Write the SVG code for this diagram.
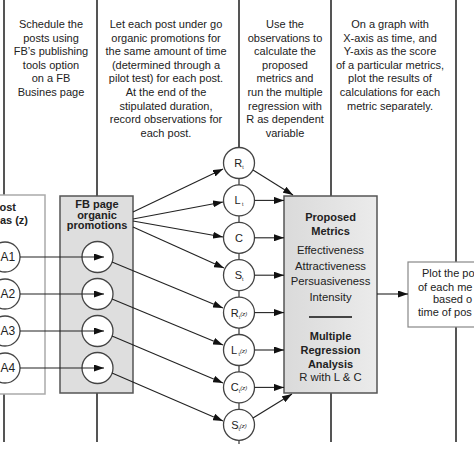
<svg xmlns="http://www.w3.org/2000/svg" width="474" height="474" viewBox="0 0 474 474">
<defs>
<style>
text{font-family:"Liberation Sans",Arial,sans-serif;fill:#222}
.lane{stroke:#555;stroke-width:2;fill:none}
.note{font-size:11px;text-anchor:middle}
.c{fill:#fff;stroke:#444;stroke-width:1.3}
.conn{stroke:#222;stroke-width:1.1;fill:none;marker-end:url(#ah)}
.lbl{font-size:11px;text-anchor:middle}
.sub{font-size:5px}
.zz{font-size:6px;font-style:italic}
.b{font-weight:bold}
</style>
<marker id="ah" markerWidth="10" markerHeight="7" refX="10" refY="3.5" orient="auto" markerUnits="userSpaceOnUse">
<path d="M0,0 L10,3.5 L0,7 z" fill="#111"/>
</marker>
<linearGradient id="gg" x1="0" y1="0" x2="1" y2="0">
<stop offset="0" stop-color="#dadada"/>
<stop offset="1" stop-color="#ebebeb"/>
</linearGradient>
</defs>
<rect width="474" height="474" fill="#fff"/>

<g id="lanes">
<line class="lane" x1="4" y1="0" x2="4" y2="195"/>
<line class="lane" x1="4" y1="394" x2="4" y2="442"/>
<line class="lane" x1="97" y1="0" x2="97" y2="196"/>
<line class="lane" x1="97" y1="393" x2="97" y2="442"/>
<line class="lane" x1="239" y1="0" x2="239" y2="147.5"/>
<line class="lane" x1="331" y1="0" x2="331" y2="196"/>
<line class="lane" x1="331" y1="393" x2="331" y2="442"/>
<line class="lane" x1="456" y1="0" x2="456" y2="262"/>
<line class="lane" x1="456" y1="327" x2="456" y2="442"/>
</g>

<g id="note1">
<text class="note" x="51" y="28"><tspan x="51">Schedule the</tspan><tspan x="51" dy="13.6">posts using</tspan><tspan x="51" dy="13.6">FB’s publishing</tspan><tspan x="51" dy="13.6">tools option</tspan><tspan x="51" dy="13.6">on a FB</tspan><tspan x="51" dy="13.6">Busines page</tspan></text>
</g>
<g id="note2">
<text class="note" x="166" y="28"><tspan x="166">Let each post under go</tspan><tspan x="166" dy="13.6">organic promotions for</tspan><tspan x="166" dy="13.6">the same amount of time</tspan><tspan x="166" dy="13.6">(determined through a</tspan><tspan x="166" dy="13.6">pilot test) for each post.</tspan><tspan x="166" dy="13.6">At the end of the</tspan><tspan x="166" dy="13.6">stipulated duration,</tspan><tspan x="166" dy="13.6">record observations for</tspan><tspan x="166" dy="13.6">each post.</tspan></text>
</g>
<g id="note3">
<text class="note" x="285" y="28"><tspan x="285">Use the</tspan><tspan x="285" dy="13.6">observations to</tspan><tspan x="285" dy="13.6">calculate the</tspan><tspan x="285" dy="13.6">proposed</tspan><tspan x="285" dy="13.6">metrics and</tspan><tspan x="285" dy="13.6">run the multiple</tspan><tspan x="285" dy="13.6">regression with</tspan><tspan x="285" dy="13.6">R as dependent</tspan><tspan x="285" dy="13.6">variable</tspan></text>
</g>
<g id="note4">
<text class="note" x="390" y="28"><tspan x="390">On a graph with</tspan><tspan x="390" dy="13.6">X-axis as time, and</tspan><tspan x="390" dy="13.6">Y-axis as the score</tspan><tspan x="390" dy="13.6">of a particular metrics,</tspan><tspan x="390" dy="13.6">plot the results of</tspan><tspan x="390" dy="13.6">calculations for each</tspan><tspan x="390" dy="13.6">metric separately.</tspan></text>
</g>

<g id="postbox">
<rect x="-20" y="195" width="65" height="199" fill="#fff" stroke="#aaa" stroke-width="1.5"/>
<text class="b" x="16" y="211" font-size="11" text-anchor="end">ost</text>
<text class="b" x="28" y="224" font-size="11" text-anchor="end">as (z)</text>
</g>
<g id="A1"><circle class="c" cx="5" cy="257" r="15"/><text x="0.5" y="261" font-size="12">A1</text></g>
<g id="A2"><circle class="c" cx="5" cy="294" r="15"/><text x="0.5" y="298" font-size="12">A2</text></g>
<g id="A3"><circle class="c" cx="5" cy="331" r="15"/><text x="0.5" y="335" font-size="12">A3</text></g>
<g id="A4"><circle class="c" cx="5" cy="368" r="15"/><text x="0.5" y="372" font-size="12">A4</text></g>

<g id="fbbox">
<rect x="60" y="196" width="73" height="197" fill="#dedede" stroke="#555" stroke-width="1.5"/>
<text class="b" x="97" y="208" font-size="11" text-anchor="middle"><tspan x="97">FB page</tspan><tspan x="97" dy="10.5">organic</tspan><tspan x="97" dy="10.5">promotions</tspan></text>
</g>
<g id="P1"><circle class="c" cx="97.5" cy="257" r="15.5"/></g>
<g id="P2"><circle class="c" cx="97.5" cy="294" r="15.5"/></g>
<g id="P3"><circle class="c" cx="97.5" cy="331" r="15.5"/></g>
<g id="P4"><circle class="c" cx="97.5" cy="368" r="15.5"/></g>

<g id="R"><circle class="c" cx="239" cy="163" r="15.5"/><text class="lbl" x="239" y="167">R<tspan class="sub" dy="2">t</tspan></text></g>
<g id="L"><circle class="c" cx="239" cy="200.4" r="15.5"/><text class="lbl" x="239" y="204.4">L<tspan class="sub" dy="2"> t</tspan></text></g>
<g id="C"><circle class="c" cx="239" cy="237.8" r="15.5"/><text class="lbl" x="239" y="241.8">C</text></g>
<g id="S"><circle class="c" cx="239" cy="275.2" r="15.5"/><text class="lbl" x="239" y="279.2">S<tspan class="sub" dy="2">t</tspan></text></g>
<g id="Rz"><circle class="c" cx="239" cy="312.6" r="15.5"/><text class="lbl" x="239" y="316.6">R<tspan class="sub" dy="2">t</tspan><tspan class="zz" dy="-3">(z)</tspan></text></g>
<g id="Lz"><circle class="c" cx="239" cy="350" r="15.5"/><text class="lbl" x="239" y="354">L<tspan class="sub" dy="2"> t</tspan><tspan class="zz" dy="-3">(z)</tspan></text></g>
<g id="Cz"><circle class="c" cx="239" cy="387.4" r="15.5"/><text class="lbl" x="239" y="391.4">C<tspan class="sub" dy="2">t</tspan><tspan class="zz" dy="-3">(z)</tspan></text></g>
<g id="Sz"><circle class="c" cx="239" cy="424.8" r="15.5"/><text class="lbl" x="239" y="428.8">S<tspan class="sub" dy="2">t</tspan><tspan class="zz" dy="-3">(z)</tspan></text></g>

<g id="metrics">
<rect x="284" y="196" width="93" height="197" fill="url(#gg)" stroke="#555" stroke-width="1.5"/>
<text class="b" x="330.5" y="221" font-size="11" text-anchor="middle"><tspan x="330.5">Proposed</tspan><tspan x="330.5" dy="14">Metrics</tspan></text>
<text x="330.5" y="254" font-size="11.3" text-anchor="middle"><tspan x="330.5">Effectiveness</tspan><tspan x="330.5" dy="15.5">Attractiveness</tspan><tspan x="330.5" dy="15.5">Persuasiveness</tspan><tspan x="330.5" dy="15.5">Intensity</tspan></text>
<line x1="309" y1="317" x2="352" y2="317" stroke="#444" stroke-width="2"/>
<text class="b" x="330.5" y="340" font-size="11" text-anchor="middle"><tspan x="330.5">Multiple</tspan><tspan x="330.5" dy="13.8">Regression</tspan><tspan x="330.5" dy="13.8">Analysis</tspan></text>
<text x="330.5" y="381" font-size="11.3" text-anchor="middle">R with L &amp; C</text>
</g>

<g id="plot">
<rect x="408" y="262" width="80" height="65" fill="#fff" stroke="#888" stroke-width="1.2"/>
<text x="422" y="277" font-size="11">Plot the po</text>
<text x="418" y="290.5" font-size="11">of each me</text>
<text x="433" y="303" font-size="11">based o</text>
<text x="418" y="316" font-size="11">time of pos</text>
</g>

<g id="connectors">
<line class="conn" x1="20" y1="257" x2="104" y2="257"/>
<line class="conn" x1="20" y1="294" x2="104" y2="294"/>
<line class="conn" x1="20" y1="331" x2="104" y2="331"/>
<line class="conn" x1="20" y1="368" x2="104" y2="368"/>
<line class="conn" x1="133" y1="212" x2="223" y2="169"/>
<line class="conn" x1="133" y1="219" x2="223" y2="202"/>
<line class="conn" x1="133" y1="221" x2="223" y2="237"/>
<line class="conn" x1="133" y1="227" x2="224" y2="268"/>
<line class="conn" x1="112" y1="262" x2="223" y2="308"/>
<line class="conn" x1="112" y1="299" x2="223" y2="345"/>
<line class="conn" x1="112" y1="336" x2="223" y2="383"/>
<line class="conn" x1="112" y1="373" x2="223" y2="421"/>
<line stroke="#444" stroke-width="1.3" x1="239" y1="178.5" x2="239" y2="184.9"/>
<line stroke="#444" stroke-width="1.3" x1="239" y1="215.9" x2="239" y2="222.3"/>
<line stroke="#444" stroke-width="1.3" x1="239" y1="253.3" x2="239" y2="259.7"/>
<line stroke="#444" stroke-width="1.3" x1="239" y1="290.7" x2="239" y2="297.1"/>
<line stroke="#444" stroke-width="1.3" x1="239" y1="328.1" x2="239" y2="334.5"/>
<line stroke="#444" stroke-width="1.3" x1="239" y1="365.5" x2="239" y2="371.9"/>
<line stroke="#444" stroke-width="1.3" x1="239" y1="402.9" x2="239" y2="409.3"/>
<line stroke="#444" stroke-width="1.3" x1="239" y1="440.3" x2="239" y2="444"/>
<line class="conn" x1="253" y1="170" x2="293" y2="195"/>
<line class="conn" x1="254.5" y1="200.4" x2="284" y2="200.4"/>
<line class="conn" x1="254.5" y1="237.8" x2="284" y2="237.8"/>
<line class="conn" x1="254.5" y1="275.2" x2="284" y2="275.2"/>
<line class="conn" x1="254.5" y1="312.6" x2="284" y2="312.6"/>
<line class="conn" x1="254.5" y1="350" x2="284" y2="350"/>
<line class="conn" x1="254.5" y1="387.4" x2="284" y2="387.4"/>
<line class="conn" x1="253" y1="418" x2="292" y2="394"/>
<line class="conn" x1="377" y1="294" x2="408" y2="294"/>
</g>
</svg>
